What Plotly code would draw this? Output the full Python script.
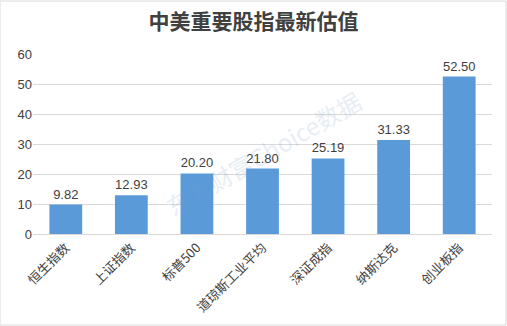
import plotly.graph_objects as go

categories = ["恒生指数", "上证指数", "标普500", "道琼斯工业平均", "深证成指", "纳斯达克", "创业板指"]
values = [9.82, 12.93, 20.20, 21.80, 25.19, 31.33, 52.50]
labels = ["9.82", "12.93", "20.20", "21.80", "25.19", "31.33", "52.50"]
yticks = [0, 10, 20, 30, 40, 50, 60]

fig = go.Figure()
fig.add_trace(go.Bar(
    x=categories, y=values, text=labels, textposition="outside",
    textfont=dict(size=13, color="#404040", family="Liberation Sans, Arial"),
    marker=dict(color="#5a9ad9", line=dict(width=0)),
    cliponaxis=False,
))
fig.update_layout(
    width=507, height=326,
    margin=dict(l=33, r=15, t=54, b=92),
    paper_bgcolor="white", plot_bgcolor="white",
    bargap=0.5,
    showlegend=False,
    title=dict(text="<b>中美重要股指最新估值</b>", x=0.5, xanchor="center",
               y=1 - 22/326, yanchor="middle",
               font=dict(size=21, color="#404040", family="Noto Sans CJK SC")),
    xaxis=dict(tickangle=-45, tickfont=dict(size=13, color="#404040", family="Noto Sans CJK SC"),
               showline=True, linecolor="#d9d9d9", ticks="", automargin=False),
    yaxis=dict(range=[0, 60], tickvals=yticks, showgrid=True, gridcolor="#d9d9d9",
               zeroline=False, ticks="", automargin=False,
               tickfont=dict(size=13, color="#404040", family="Liberation Sans, Arial")),
    shapes=[dict(type="rect", xref="paper", yref="paper", x0=-33/459, x1=1+14/459,
                 y0=-91/180, y1=1+53/180, line=dict(color="#d9d9d9", width=1))],
    annotations=[dict(text="东方财富Choice数据", xref="paper", yref="paper", x=0.5, y=0.45,
                      showarrow=False, textangle=-30, opacity=0.18,
                      font=dict(size=24, color="#7f9fc8", family="Noto Sans CJK SC"))],
)
fig.write_html("out.html")
